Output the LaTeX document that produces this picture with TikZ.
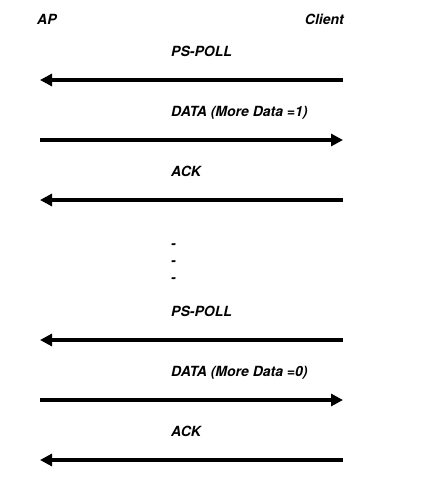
\documentclass[tikz,border=0pt]{standalone}
\usepackage{fontspec}
\setmainfont{TeX Gyre Heros}
\usetikzlibrary{arrows.meta}
\begin{document}
\begin{tikzpicture}[x=1pt,y=-1pt,
  every node/.style={font=\bfseries\itshape\fontsize{14}{16}\selectfont, inner sep=0pt},
  msg/.style={line width=3.2pt, -{Triangle[length=12pt,width=12pt]}}]
 \useasboundingbox (0,0) rectangle (428,482);
 \node[anchor=base west] (ap) at (37,24) {AP};
 \node[anchor=base east] (client) at (344,24) {Client};
 \foreach \y/\d/\t [count=\i] in {80/l/PS-POLL,140/r/DATA (More Data =1),200/l/ACK,
                                  340/l/PS-POLL,400/r/DATA (More Data =0),460/l/ACK} {
   \coordinate (a\i) at (40,\y);
   \coordinate (c\i) at (343,\y);
   \node[anchor=base west] (lbl\i) at (171,\y-24) {\t};
   \if l\d
     \draw[msg] (c\i) -- (a\i);
   \else
     \draw[msg] (a\i) -- (c\i);
   \fi
 }
 % pause between the two exchanges
 \foreach \y [count=\i] in {246,263,280}
   \node[anchor=west] (gap\i) at (171,\y) {-};
\end{tikzpicture}
\end{document}
